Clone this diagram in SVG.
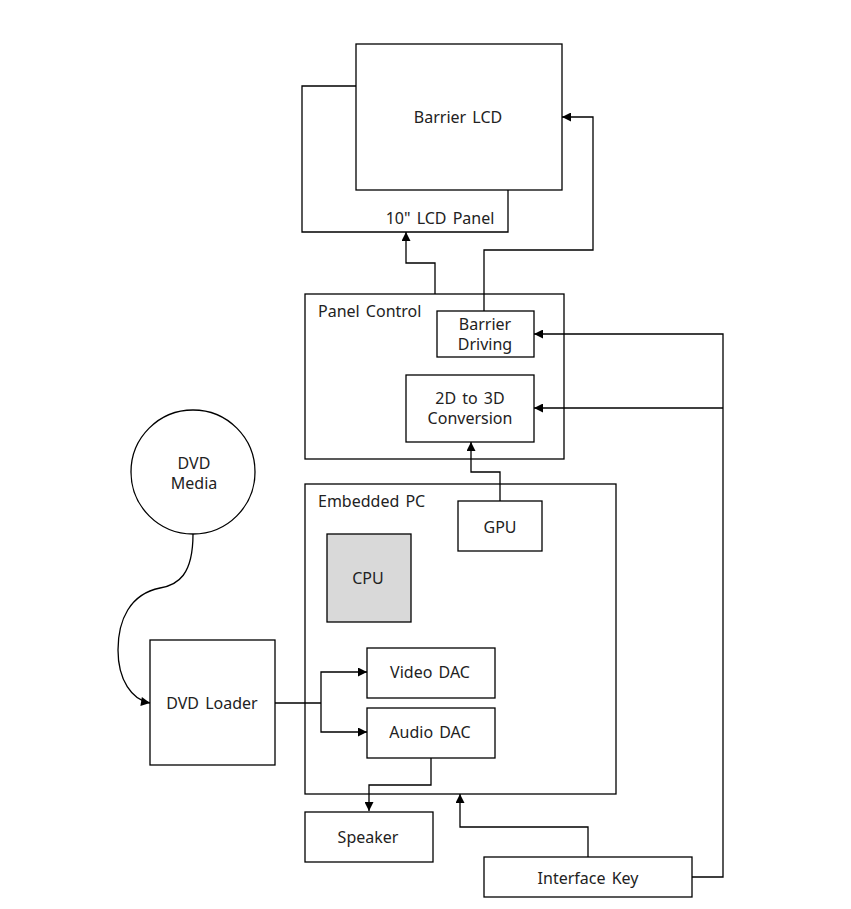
<svg xmlns="http://www.w3.org/2000/svg" width="851" height="909" viewBox="0 0 851 909">
<style>
.box{fill:#fff;stroke:#000;stroke-width:1.3}
.cpu{fill:#d9d9d9;stroke:#000;stroke-width:1.3}
.t{font-family:"Noto Sans","Open Sans",sans-serif;font-size:16px;fill:#222;text-anchor:middle;dominant-baseline:central;word-spacing:2px}
.tl{text-anchor:start}
.c{fill:none;stroke:#000;stroke-width:1.3}
</style>
<defs>
<marker id="a" viewBox="0 0 10 10" refX="10" refY="5" markerWidth="10" markerHeight="9" markerUnits="userSpaceOnUse" orient="auto">
<path d="M0,0 L10,5 L0,10 z" fill="#000"/>
</marker>
</defs>
<rect width="851" height="909" fill="#fff"/>
<g id="lcd-panel">
<path class="c" d="M356,86 H302 V232 H508 V190"/>
<text class="t" x="440" y="218">10" LCD Panel</text>
</g>
<g id="barrier-lcd">
<rect class="box" x="356" y="44" width="206" height="146"/>
<text class="t" x="458" y="117">Barrier LCD</text>
</g>
<g id="panel-control">
<rect class="box" x="305" y="294" width="259" height="165"/>
<text class="t tl" x="318" y="311">Panel Control</text>
</g>
<g id="barrier-driving">
<rect class="box" x="437" y="311" width="97" height="46"/>
<text class="t" x="485" y="324">Barrier</text>
<text class="t" x="485" y="344">Driving</text>
</g>
<g id="conversion">
<rect class="box" x="406" y="375" width="128" height="67"/>
<text class="t" x="470" y="398">2D to 3D</text>
<text class="t" x="470" y="418">Conversion</text>
</g>
<g id="embedded-pc">
<rect class="box" x="305" y="484" width="311" height="310"/>
<text class="t tl" x="318" y="501">Embedded PC</text>
</g>
<g id="gpu">
<rect class="box" x="458" y="501" width="84" height="50"/>
<text class="t" x="500" y="527">GPU</text>
</g>
<g id="cpu">
<rect class="cpu" x="327" y="534" width="84" height="88"/>
<text class="t" x="368" y="578">CPU</text>
</g>
<g id="video-dac">
<rect class="box" x="367" y="648" width="128" height="50"/>
<text class="t" x="430" y="672">Video DAC</text>
</g>
<g id="audio-dac">
<rect class="box" x="367" y="708" width="128" height="50"/>
<text class="t" x="430" y="732">Audio DAC</text>
</g>
<g id="dvd-media">
<circle class="box" cx="193" cy="472" r="62"/>
<text class="t" x="194" y="463">DVD</text>
<text class="t" x="194" y="483">Media</text>
</g>
<g id="dvd-loader">
<rect class="box" x="150" y="640" width="125" height="125"/>
<text class="t" x="212" y="703">DVD Loader</text>
</g>
<g id="speaker">
<rect class="box" x="305" y="812" width="128" height="50"/>
<text class="t" x="368" y="837">Speaker</text>
</g>
<g id="interface-key">
<rect class="box" x="484" y="857" width="208" height="40"/>
<text class="t" x="588" y="878">Interface Key</text>
</g>
<g id="connectors">
<path class="c" d="M435,294 V263 H406 V232" marker-end="url(#a)"/>
<path class="c" d="M484,311 V250 H593 V117 H562" marker-end="url(#a)"/>
<path class="c" d="M500,501 V472 H471 V442" marker-end="url(#a)"/>
<path class="c" d="M692,877 H723 V334 H534" marker-end="url(#a)"/>
<path class="c" d="M723,408 H534" marker-end="url(#a)"/>
<path class="c" d="M588,857 V827 H460 V794" marker-end="url(#a)"/>
<path class="c" d="M431,758 V785 H369 V811" marker-end="url(#a)"/>
<path class="c" d="M275,703 H321"/>
<path class="c" d="M321,703 V672 H367" marker-end="url(#a)"/>
<path class="c" d="M321,703 V732 H367" marker-end="url(#a)"/>
<path class="c" d="M193,534 C193,575 178,585 160,588 C130,594 118,620 118,650 C118,680 132,700 150,703" marker-end="url(#a)"/>
</g>
</svg>
